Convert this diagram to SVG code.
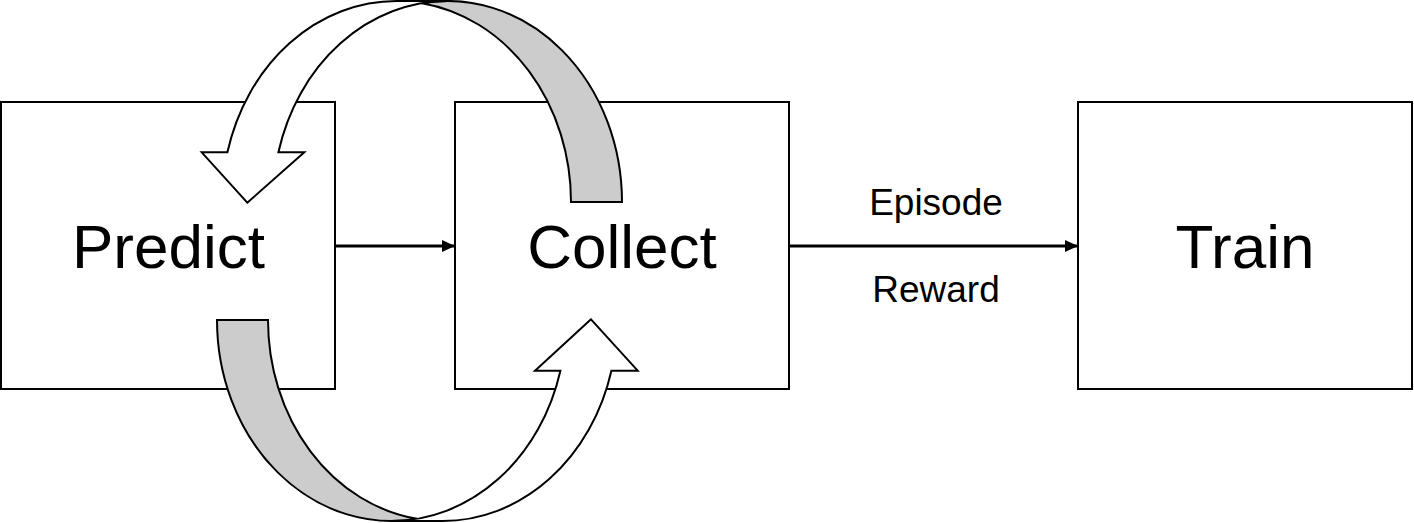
<svg xmlns="http://www.w3.org/2000/svg" width="1414" height="523" viewBox="0 0 1414 523">
<style>
.box{fill:#ffffff;stroke:#000000;stroke-width:2}
.big{font-family:"Liberation Sans",Arial,sans-serif;font-size:62px;fill:#000000;text-anchor:middle}
.lbl{font-family:"Liberation Sans",Arial,sans-serif;font-size:37px;fill:#000000;text-anchor:middle}
.conn{stroke:#000000;stroke-width:3;fill:none}
.front{fill:#ffffff;stroke:#000000;stroke-width:2;stroke-linejoin:miter}
.back{fill:#cccccc;stroke:#000000;stroke-width:2;stroke-linejoin:miter}
</style>
<defs>
<marker id="ah" markerUnits="userSpaceOnUse" markerWidth="14" markerHeight="14" refX="13" refY="6" orient="auto">
<path d="M0,0 L13,6 L0,12 Z" fill="#000000"/>
</marker>
</defs>
<rect width="1414" height="523" fill="#ffffff"/>
<g id="predict">
<rect class="box" x="1" y="102" width="334" height="287"/>
</g>
<g id="collect">
<rect class="box" x="455" y="102" width="334" height="287"/>
</g>
<g id="train">
<rect class="box" x="1078" y="102" width="334" height="287"/>
<text class="big" x="1245" y="268">Train</text>
</g>
<g id="loop-top">
<path class="back" d="M622,202 L571,202 A174.5 201 0 0 0 422,3.16 A174.5 201 0 0 1 622,202 Z"/>
<path class="front" d="M247.3,202.7 L304.3,152.3 L278.4,152.3 A174.5 201 0 0 1 447.5,1 L396.5,1 A174.5 201 0 0 0 227.4,152.3 L201.7,152.3 Z"/>
</g>
<g id="loop-bottom">
<path class="back" d="M217,320 L268,320 A174.5 201 0 0 0 417,518.84 A174.5 201 0 0 1 217,320 Z"/>
<path class="front" d="M591,319.3 L535,370.7 L560.4,370.7 A174.5 201 0 0 1 391.5,521 L442.5,521 A174.5 201 0 0 0 611.4,370.7 L637.7,370.7 Z"/>
</g>
<g id="predict-label">
<text class="big" x="168.5" y="268">Predict</text>
</g>
<g id="collect-label">
<text class="big" x="622" y="268">Collect</text>
</g>
<g id="connectors">
<line class="conn" x1="335" y1="246" x2="455" y2="246" marker-end="url(#ah)"/>
<line class="conn" x1="789" y1="246" x2="1078" y2="246" marker-end="url(#ah)"/>
<text class="lbl" x="936" y="215">Episode</text>
<text class="lbl" x="936" y="302">Reward</text>
</g>
</svg>
